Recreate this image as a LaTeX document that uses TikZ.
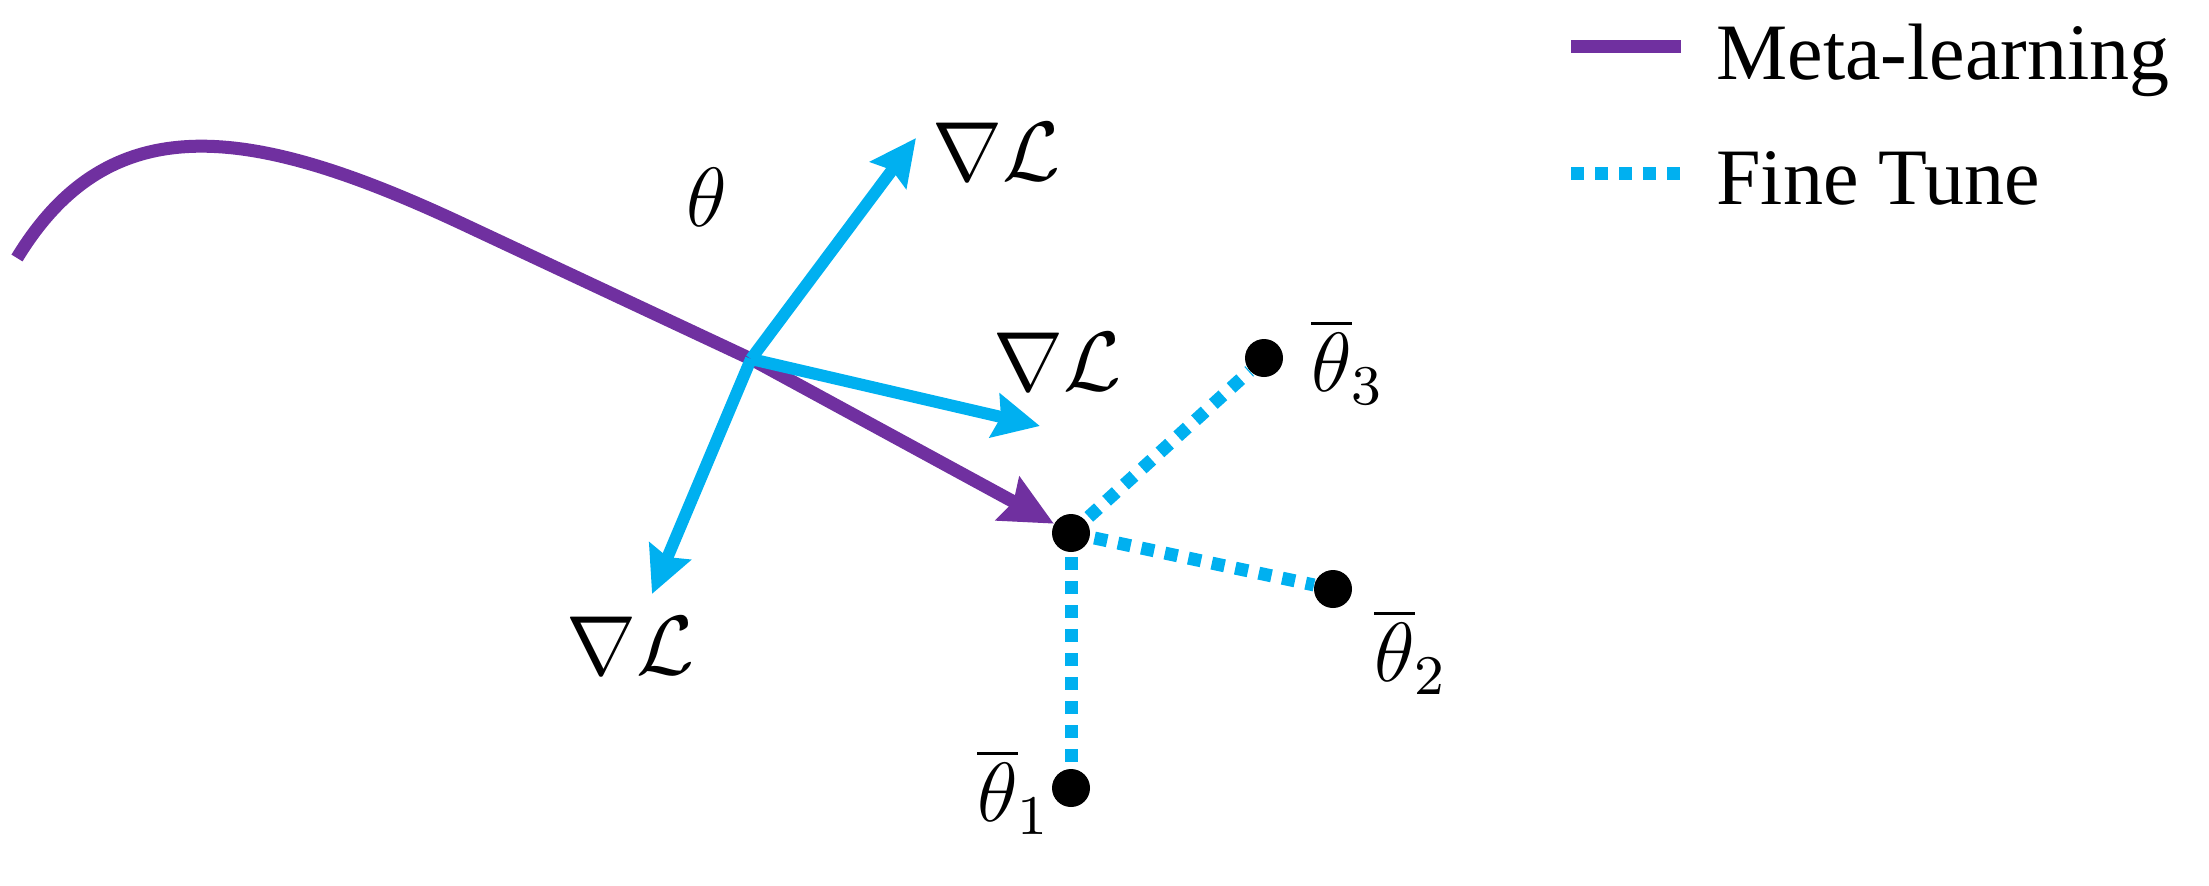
\documentclass[tikz,border=0pt]{standalone}
\usepackage{fontspec}
\setmainfont{Liberation Serif}
\usetikzlibrary{arrows.meta}
\definecolor{metapurple}{HTML}{7030A0}
\definecolor{tuneblue}{HTML}{00B0F0}
\tikzset{
  metaline/.style={metapurple, line width=6.5pt},
  gradarrow/.style={tuneblue, line width=6pt, -{Stealth[length=23pt,width=22pt,inset=3pt]}},
  fineline/.style={tuneblue, line width=6.5pt, dash pattern=on 6.5pt off 5.5pt},
  pt/.style={circle, fill=black, inner sep=0pt, minimum size=19pt},
  lbl/.style={font=\fontsize{12}{14}\selectfont, inner sep=0pt, scale=3.5, transform shape},
  legtext/.style={font=\fontsize{40}{48}\selectfont, inner sep=0pt, anchor=base west}
}
\begin{document}
\begin{tikzpicture}[x=0.5pt,y=-0.5pt]
\useasboundingbox (0,0) rectangle (2209,885);
% points
\coordinate (s) at (17,258);
\coordinate (m) at (465,225);
\coordinate (J) at (751,359);
\coordinate (c0) at (1071,533);
\node[pt] (d3) at (1264,358) {};
\node[pt] (d2) at (1333,589) {};
\node[pt] (d1) at (1071,788) {};
\coordinate (t1) at (916,138);
\coordinate (t2) at (1040,426);
\coordinate (t3) at (652,594);
% fine tune lines
\draw[fineline] (c0) -- (d3);
\draw[fineline] (c0) -- (d2);
\draw[fineline] (c0) -- (d1);
\node[pt] (d0) at (c0) {};
% meta-learning path
\draw[metaline, line join=round, -{Stealth[length=26pt,width=24pt,inset=3pt]}]
  (s) .. controls (110,105) and (250,124) .. (m) -- (J) -- (d0);
% gradient arrows
\draw[gradarrow] (J) -- (t1);
\draw[gradarrow] (J) -- (t2);
\draw[gradarrow] (J) -- (t3);
% labels
\node[lbl] (th) at (707,197) {$\theta$};
\node[lbl] (g1) at (996,152) {$\nabla\mathcal{L}$};
\node[lbl] (g2) at (1057,362) {$\nabla\mathcal{L}$};
\node[lbl] (g3) at (630,646) {$\nabla\mathcal{L}$};
\node[lbl] (l3) at (1348,362) {$\overline{\theta}_3$};
\node[lbl] (l2) at (1411,652) {$\overline{\theta}_2$};
\node[lbl] (l1) at (1014,792) {$\overline{\theta}_1$};
% legend
\coordinate (la) at (1571,46);
\coordinate (lb) at (1681,46);
\coordinate (lc) at (1571,173);
\coordinate (ld) at (1681,173);
\draw[metaline] (la) -- (lb);
\draw[fineline] (lc) -- (ld);
\node[legtext] (lt1) at (1716,79) {Meta-learning};
\node[legtext] (lt2) at (1716,204) {Fine Tune};
\end{tikzpicture}
\end{document}
